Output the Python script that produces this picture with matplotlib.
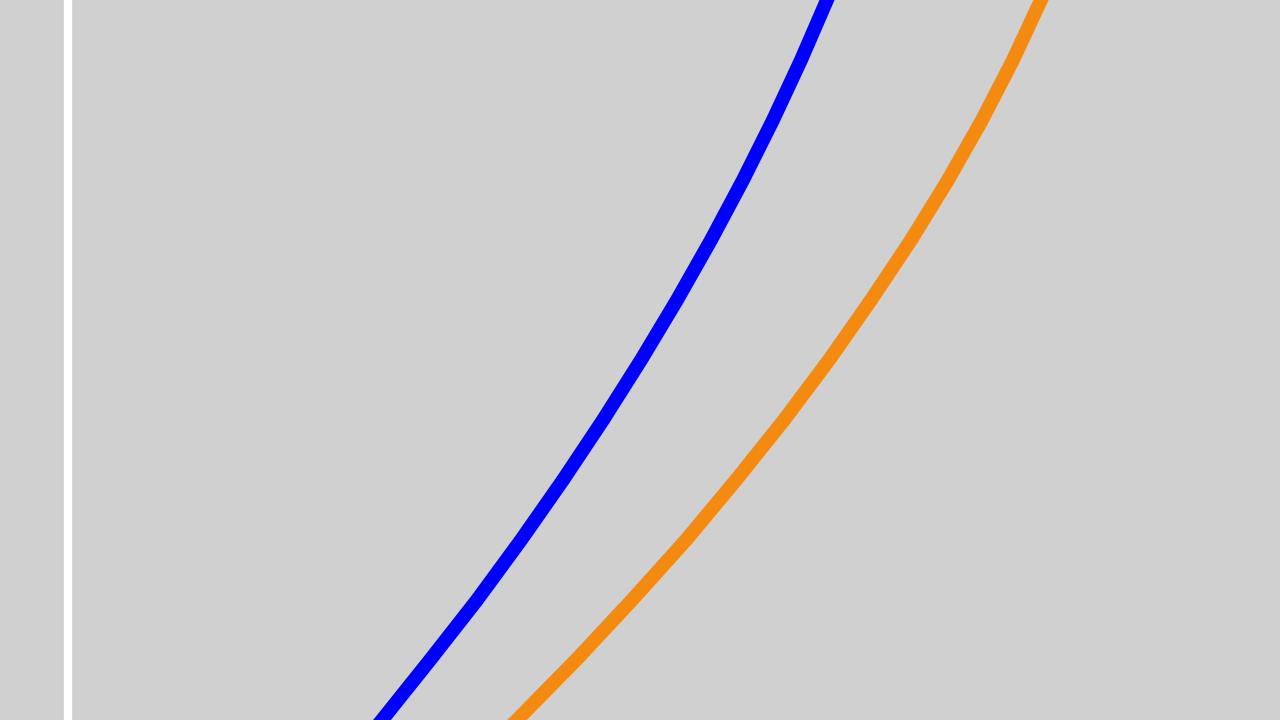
import matplotlib
matplotlib.use("Agg")
import matplotlib.pyplot as plt

# Values (data units; view window 0..12.8 x 0..7.2)
levels = [0.0, 0.6, 1.2, 1.8, 2.4, 3.0, 3.6, 4.2, 4.8, 5.4, 6.0, 6.6, 7.2]

blue_x = [3.82, 4.30, 4.77, 5.21, 5.63, 6.03, 6.41, 6.77, 7.11, 7.43, 7.73, 8.01, 8.27]
orange_x = [5.17, 5.76, 6.32, 6.86, 7.36, 7.84, 8.29, 8.71, 9.11, 9.48, 9.82, 10.13, 10.41]

vline_x = 0.675

fig = plt.figure(figsize=(12.8, 7.2), dpi=100)
fig.patch.set_facecolor("#d0d0d0")
ax = fig.add_axes([0, 0, 1, 1])
ax.set_facecolor("#d0d0d0")
ax.set_xlim(0, 12.8)
ax.set_ylim(0, 7.2)
ax.axis("off")

ax.axvline(vline_x, color="white", lw=6)
ax.plot(blue_x, levels, color="#0000ff", lw=10, solid_capstyle="projecting",
        solid_joinstyle="round")
ax.plot(orange_x, levels, color="#f58a10", lw=10, solid_capstyle="projecting",
        solid_joinstyle="round")

fig.savefig("out.png", dpi=100, facecolor=fig.get_facecolor())
